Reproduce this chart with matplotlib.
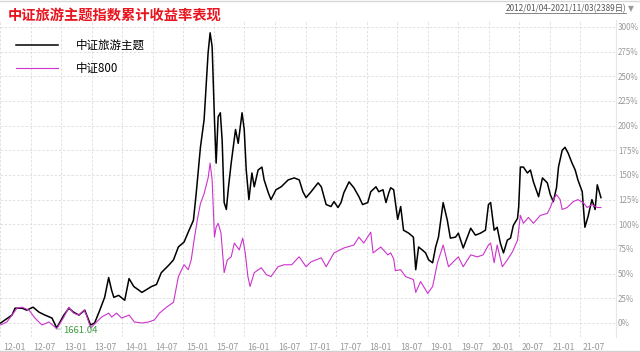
import pandas as pd
import matplotlib.pyplot as plt
import matplotlib.dates as mdates
from matplotlib.ticker import FixedLocator
from matplotlib.transforms import ScaledTranslation
from matplotlib.lines import Line2D

plt.rcParams['font.family'] = ['Noto Sans CJK SC', 'DejaVu Sans']

# 中证旅游主题 cumulative return (%)
tour_dates = [
    "2012-01-04", "2012-03-12", "2012-03-30", "2012-05-11", "2012-06-08", "2012-07-16",
    "2012-08-20", "2012-09-25", "2012-11-06", "2012-12-04", "2013-01-16", "2013-02-15",
    "2013-03-15", "2013-04-16", "2013-05-21", "2013-06-25", "2013-07-19", "2013-08-19",
    "2013-09-17", "2013-10-11", "2013-10-29", "2013-11-11", "2013-12-10", "2014-01-15",
    "2014-02-10", "2014-03-10", "2014-04-28", "2014-06-25", "2014-07-24", "2014-08-22",
    "2014-10-08", "2014-11-03", "2014-12-02", "2015-01-05", "2015-01-30", "2015-03-02",
    "2015-03-18", "2015-04-03", "2015-04-13", "2015-05-05", "2015-05-29", "2015-06-10",
    "2015-06-22", "2015-07-06", "2015-07-16", "2015-07-28", "2015-08-10", "2015-08-21",
    "2015-09-02", "2015-09-15", "2015-09-28", "2015-10-14", "2015-11-09", "2015-11-25",
    "2015-12-18", "2015-12-31", "2016-01-12", "2016-01-28", "2016-02-15", "2016-02-29",
    "2016-03-23", "2016-04-15", "2016-04-28", "2016-05-23", "2016-06-08", "2016-07-08",
    "2016-08-08", "2016-09-19", "2016-10-25", "2016-11-24", "2016-12-16", "2017-01-04",
    "2017-02-03", "2017-03-17", "2017-04-05", "2017-05-04", "2017-06-02", "2017-06-20",
    "2017-07-14", "2017-08-01", "2017-08-18", "2017-09-18", "2017-10-17", "2017-11-16",
    "2017-12-08", "2018-01-08", "2018-01-26", "2018-02-26", "2018-03-15", "2018-04-09",
    "2018-04-27", "2018-05-14", "2018-05-25", "2018-06-12", "2018-07-06", "2018-07-24",
    "2018-08-10", "2018-09-10", "2018-10-08", "2018-10-22", "2018-11-08", "2018-11-30",
    "2018-12-20", "2019-01-07", "2019-01-31", "2019-02-18", "2019-03-07", "2019-04-04",
    "2019-04-29", "2019-05-17", "2019-06-17", "2019-07-04", "2019-08-02", "2019-08-27",
    "2019-09-16", "2019-10-14", "2019-11-13", "2019-12-13", "2019-12-31", "2020-01-13",
    "2020-02-03", "2020-02-21", "2020-03-11", "2020-03-30", "2020-04-22", "2020-05-11",
    "2020-05-28", "2020-06-22", "2020-06-29", "2020-07-09", "2020-07-27", "2020-08-20",
    "2020-09-07", "2020-09-25", "2020-10-26", "2020-11-18", "2020-12-17", "2021-01-04",
    "2021-01-22", "2021-02-10", "2021-02-22", "2021-03-16", "2021-04-02", "2021-04-21",
    "2021-05-14", "2021-06-02", "2021-06-18", "2021-07-14", "2021-07-30", "2021-08-18",
    "2021-09-10", "2021-09-29", "2021-10-12", "2021-11-03",
]
tour_vals = [
    0, 8, 15, 15, 13, 16,
    11, 8, 5, -5, 8, 15,
    11, 8, 13, -2, 0, 13,
    26, 46, 33, 26, 28, 23,
    45, 37, 31, 37, 39, 51,
    59, 64, 77, 82, 92, 104,
    130, 160, 178, 206, 274, 294,
    280, 206, 162, 209, 213, 185,
    122, 115, 138, 162, 196, 182,
    213, 196, 155, 125, 152, 138,
    155, 158, 145, 132, 125, 135,
    138, 145, 147, 145, 133, 127,
    133, 142, 138, 120, 118, 123,
    117, 122, 132, 143, 137, 128,
    120, 122, 133, 138, 133, 135,
    122, 132, 137, 135, 105, 118,
    94, 91, 87, 54, 77, 74,
    71, 64, 61, 77, 87, 122,
    104, 86, 87, 91, 76, 87,
    96, 89, 91, 94, 120, 122,
    94, 97, 81, 71, 84, 86,
    99, 106, 118, 158, 158, 152,
    155, 143, 128, 147, 142, 130,
    123, 137, 158, 175, 178, 172,
    162, 155, 145, 133, 97, 108,
    125, 115, 140, 127,
]

# 中证800 cumulative return (%)
csi_dates = [
    "2012-01-04", "2012-02-10", "2012-03-12", "2012-04-11", "2012-05-11", "2012-06-22",
    "2012-07-27", "2012-09-07", "2012-10-19", "2012-11-23", "2012-12-04", "2013-01-16",
    "2013-02-15", "2013-03-15", "2013-04-16", "2013-05-17", "2013-05-31", "2013-06-25",
    "2013-07-31", "2013-08-30", "2013-10-11", "2013-10-29", "2013-11-27", "2013-12-27",
    "2014-02-10", "2014-03-14", "2014-04-28", "2014-06-06", "2014-07-11", "2014-08-11",
    "2014-09-22", "2014-11-03", "2014-12-02", "2015-01-05", "2015-01-30", "2015-02-17",
    "2015-03-06", "2015-03-27", "2015-04-13", "2015-05-05", "2015-05-29", "2015-06-10",
    "2015-06-22", "2015-07-06", "2015-07-16", "2015-07-28", "2015-08-14", "2015-09-02",
    "2015-09-21", "2015-10-14", "2015-11-02", "2015-12-01", "2015-12-22", "2016-01-06",
    "2016-01-22", "2016-02-04", "2016-02-29", "2016-04-11", "2016-05-11", "2016-06-08",
    "2016-07-20", "2016-08-26", "2016-10-10", "2016-11-17", "2016-11-24", "2017-01-04",
    "2017-02-03", "2017-04-05", "2017-05-04", "2017-06-20", "2017-08-18", "2017-10-17",
    "2017-11-16", "2017-12-15", "2018-01-26", "2018-02-09", "2018-03-27", "2018-05-08",
    "2018-05-25", "2018-06-12", "2018-06-22", "2018-07-24", "2018-08-22", "2018-10-08",
    "2018-10-22", "2018-11-20", "2019-01-02", "2019-01-31", "2019-03-01", "2019-04-04",
    "2019-05-06", "2019-06-04", "2019-07-04", "2019-08-02", "2019-09-16", "2019-10-25",
    "2019-11-29", "2019-12-31", "2020-01-13", "2020-02-03", "2020-02-21", "2020-03-23",
    "2020-04-22", "2020-05-22", "2020-06-22", "2020-07-09", "2020-07-27", "2020-08-26",
    "2020-09-25", "2020-11-05", "2020-12-17", "2021-01-04", "2021-01-22", "2021-02-10",
    "2021-03-04", "2021-03-16", "2021-04-15", "2021-05-21", "2021-06-18", "2021-07-20",
    "2021-08-12", "2021-09-10", "2021-10-12", "2021-11-03",
]
csi_vals = [
    -2, 1, 8, 15, 16, 13,
    5, -2, 1, -4, -6, 6,
    16, 10, 8, 13, 8, -5,
    1, 6, 10, 6, 10, 5,
    8, 1, 0, 1, 3, 10,
    16, 21, 47, 59, 54, 64,
    84, 106, 121, 131, 147, 162,
    145, 87, 97, 101, 91, 51,
    64, 67, 81, 74, 86, 71,
    47, 37, 51, 56, 49, 47,
    57, 59, 59, 66, 67, 57,
    62, 66, 57, 71, 76, 79,
    87, 81, 92, 71, 77, 69,
    71, 65, 53, 54, 47, 44,
    31, 42, 30, 37, 61, 79,
    57, 62, 67, 57, 69, 67,
    69, 79, 81, 61, 79, 57,
    64, 72, 84, 109, 101, 107,
    101, 109, 111, 117, 125, 130,
    125, 115, 117, 123, 125, 122,
    117, 120, 117, 117,
]

# x tick labels (every half year)
tick_dates = pd.date_range("2012-01-01", "2021-07-01", freq="6MS")
tick_labels = [d.strftime("%y-%m") for d in tick_dates]

tour_dates = pd.to_datetime(tour_dates)
csi_dates = pd.to_datetime(csi_dates)

fig = plt.figure(figsize=(6.4, 3.52), dpi=100)
ax = fig.add_axes([0, 15 / 352, 616 / 640, 317 / 352])

ax.plot(tour_dates, tour_vals, color='black', lw=1.1, label='中证旅游主题')
ax.plot(csi_dates, csi_vals, color='#cc33cc', lw=0.8, label='中证800')

ax.set_xlim(pd.Timestamp("2011-12-31"), pd.Timestamp("2022-02-01"))
ax.set_ylim(-14.2, 307)

# axes styling
for s in ['left', 'top', 'bottom']:
    ax.spines[s].set_visible(False)
ax.spines['right'].set_color('#e6e6e6')
ax.spines['right'].set_linewidth(0.8)

ax.yaxis.tick_right()
ax.set_yticks(range(0, 301, 25))
ax.set_yticklabels([f"{v}%" for v in range(0, 301, 25)])
ax.tick_params(axis='y', length=0, pad=1.5, labelsize=5.8, labelcolor='#9a9a9a')

ax.xaxis.set_major_locator(FixedLocator(mdates.date2num(tick_dates)))
ax.set_xticklabels(tick_labels)
ax.tick_params(axis='x', length=0, pad=4, labelsize=6.3, labelcolor='#9a9a9a')
offset = ScaledTranslation(0.03, 0, fig.dpi_scale_trans)
for lbl in ax.get_xticklabels():
    lbl.set_horizontalalignment('left')
    lbl.set_transform(lbl.get_transform() + offset)

ax.grid(True, color='#dddddd', linestyle=(0, (3, 2)), linewidth=0.6)
ax.set_axisbelow(True)

# low point annotation
imin = csi_vals.index(min(csi_vals))
ax.annotate("1661.04", xy=(csi_dates[imin], csi_vals[imin]), xytext=(5, -1),
            textcoords='offset points', fontsize=6.8, color='#3c9a3c',
            va='center', ha='left',
            arrowprops=dict(arrowstyle='-', color='#7fbf7f', lw=0.6, shrinkA=0, shrinkB=0))

ax.legend(loc='upper left', bbox_to_anchor=(16 / 640, 1 - 39 / 352),
          bbox_transform=fig.transFigure, frameon=False, fontsize=8.3,
          handlelength=3.6, handletextpad=1.6, labelspacing=0.85,
          borderpad=0, borderaxespad=0)

fig.text(8 / 640, 1 - 16 / 352, "中证旅游主题指数累计收益率表现", color='#e8141e',
         fontsize=10.3, fontweight='bold', va='center', ha='left')

dt = fig.text(626 / 640, 1 - 9 / 352, "2012/01/04-2021/11/03(2389日)", color='#555555',
              fontsize=5.9, va='center', ha='right')
fig.text(628 / 640, 1 - 9 / 352, "▼", color='#9a9a9a', fontsize=5.5,
         va='center', ha='left', family=['DejaVu Sans'])

fig.canvas.draw()
bb = dt.get_window_extent().transformed(fig.transFigure.inverted())
fig.add_artist(Line2D([bb.x0, bb.x1], [bb.y0 + 0.002, bb.y0 + 0.002],
                      transform=fig.transFigure, color='#555555', lw=0.5))
fig.add_artist(Line2D([0, 1], [0.004, 0.004], transform=fig.transFigure,
                      color='#d0d0d0', lw=1))
fig.add_artist(Line2D([0, 1], [0.997, 0.997], transform=fig.transFigure,
                      color='#d8d8d8', lw=1))

fig.savefig("out.png", dpi=100)
